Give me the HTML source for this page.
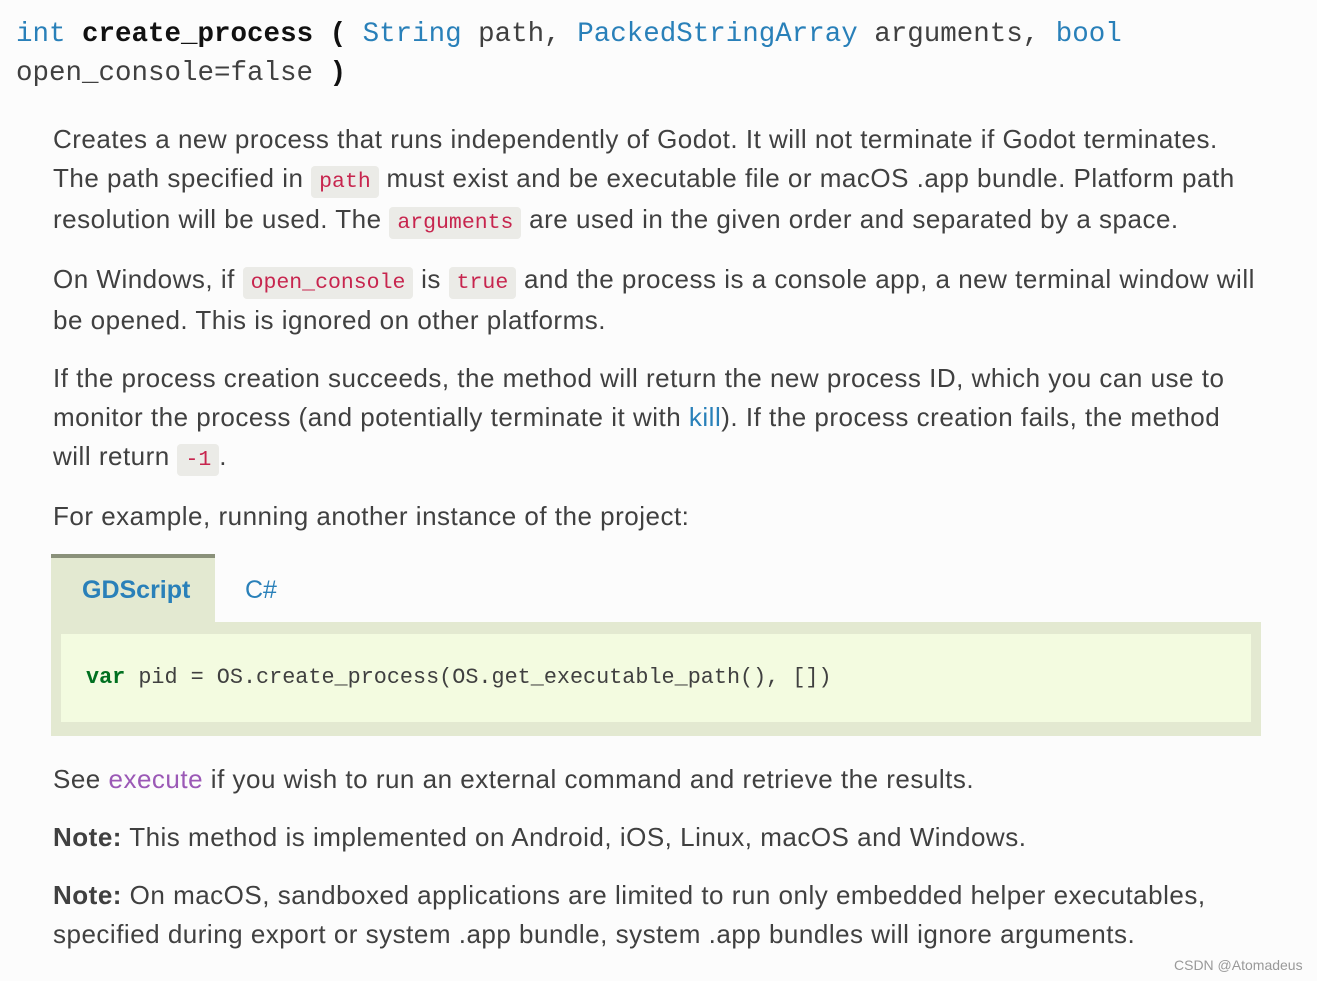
<!DOCTYPE html>
<html><head><meta charset="utf-8"><style>
body{margin:0;width:1317px;height:981px;background:#fcfcfc;position:relative;overflow:hidden;font-family:"Liberation Sans",sans-serif;color:#404040}
.l{position:absolute;left:53px;white-space:nowrap;font-size:26px;letter-spacing:0.5px;line-height:40px;height:40px}
.m{font-family:"Liberation Mono",monospace}
.h{position:absolute;left:16px;white-space:nowrap;font-size:27.5px;line-height:40px;color:#404040}
.t{color:#2980b9}
.b{color:#111;font-weight:bold}
code{font-family:"Liberation Mono",monospace;font-size:21.5px;letter-spacing:0;color:#c7254e;background:#ebebe7;border-radius:4px;padding:4px 8px}
a{color:#2980b9;text-decoration:none}
</style></head><body>
<div class="h m" style="top:15px"><span class="t">int</span> <span class="b">create_process</span> <span class="b">(</span> <span class="t">String</span> path, <span class="t">PackedStringArray</span> arguments, <span class="t">bool</span></div>
<div class="h m" style="top:54px">open_console=false <span class="b">)</span></div>

<div class="l" style="top:119px">Creates a new process that runs independently of Godot. It will not terminate if Godot terminates.</div>
<div class="l" style="top:158px">The path specified in <code>path</code> must exist and be executable file or macOS .app bundle. Platform path</div>
<div class="l" style="top:199px">resolution will be used. The <code>arguments</code> are used in the given order and separated by a space.</div>
<div class="l" style="top:259px">On Windows, if <code>open_console</code> is <code>true</code> and the process is a console app, a new terminal window will</div>
<div class="l" style="top:300px">be opened. This is ignored on other platforms.</div>
<div class="l" style="top:358px">If the process creation succeeds, the method will return the new process ID, which you can use to</div>
<div class="l" style="top:397px">monitor the process (and potentially terminate it with <a>kill</a>). If the process creation fails, the method</div>
<div class="l" style="top:436px">will return <code>-1</code>.</div>
<div class="l" style="top:496px">For example, running another instance of the project:</div>

<div style="position:absolute;left:51px;top:554px;width:164px;height:70px;background:#e3e9d1;border-top:4px solid #8a917a;box-sizing:border-box"></div>
<div style="position:absolute;left:82px;top:570px;font-size:25px;line-height:40px;color:#2980b9;font-weight:bold">GDScript</div>
<div style="position:absolute;left:245px;top:570px;font-size:25px;line-height:40px;color:#2980b9">C#</div>
<div style="position:absolute;left:51px;top:622px;width:1210px;height:114px;background:#e3e9d1"></div>
<div style="position:absolute;left:61px;top:634px;width:1190px;height:88px;background:#f3fbe0"></div>
<div class="m" style="position:absolute;left:86px;top:658px;font-size:21.8px;line-height:40px;white-space:nowrap;color:#404040"><b style="color:#007020">var</b> pid = OS.create_process(OS.get_executable_path(), [])</div>

<div class="l" style="top:759px">See <a style="color:#9b59b6">execute</a> if you wish to run an external command and retrieve the results.</div>
<div class="l" style="top:817px"><b>Note:</b> This method is implemented on Android, iOS, Linux, macOS and Windows.</div>
<div class="l" style="top:875px"><b>Note:</b> On macOS, sandboxed applications are limited to run only embedded helper executables,</div>
<div class="l" style="top:914px">specified during export or system .app bundle, system .app bundles will ignore arguments.</div>
<div style="position:absolute;left:1174px;top:957px;font-size:14px;color:#999">CSDN @Atomadeus</div>
</body></html>
